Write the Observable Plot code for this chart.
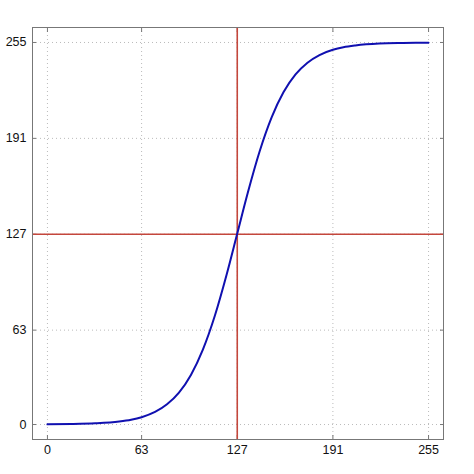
<!DOCTYPE html>
<html>
<head>
<meta charset="utf-8">
<script src="https://cdn.jsdelivr.net/npm/d3@7"></script>
<script src="https://cdn.jsdelivr.net/npm/@observablehq/plot@0.6"></script>
<style>
  html, body { margin: 0; padding: 0; background: #fff; }
  svg { display: block; }
</style>
</head>
<body>
<div id="chart"></div>
<script>
const tickValues = [0, 63, 127, 191, 255];
const curveX = [0, 16, 32, 48, 56, 63, 72, 80, 88, 96, 104, 112, 120, 127, 134, 142, 150, 158, 166, 174, 182, 191, 198, 206, 222, 238, 255];
const curveY = [0.1, 0.3, 0.8, 2.0, 3.2, 4.9, 8.4, 13.5, 21.3, 33.1, 50.0, 72.6, 100.5, 127.5, 154.5, 182.4, 205.0, 221.9, 233.7, 241.5, 246.6, 250.1, 251.8, 253.0, 254.3, 254.7, 254.9];
const crossX = [127];
const crossY = [127];

const curve = curveX.map((x, i) => ({x, y: curveY[i]}));

const chart = Plot.plot({
  width: 474,
  height: 474,
  marginLeft: 32,
  marginRight: 31,
  marginTop: 27,
  marginBottom: 35,
  style: {fontFamily: "Liberation Sans, Arial, sans-serif", fontSize: "12.5px", color: "#111"},
  x: {domain: [-10, 265], ticks: tickValues},
  y: {domain: [-10, 265], ticks: tickValues},
  marks: [
    Plot.gridX(tickValues, {stroke: "#bbb", strokeOpacity: 1, strokeDasharray: "1,3"}),
    Plot.gridY(tickValues, {stroke: "#bbb", strokeOpacity: 1, strokeDasharray: "1,3"}),
    Plot.axisX(tickValues, {anchor: "bottom", tickSize: -4, tickPadding: 10, stroke: "#777", label: null, fill: "#111"}),
    Plot.axisX(tickValues, {anchor: "top", tickSize: -4, tickFormat: () => "", stroke: "#777", label: null}),
    Plot.axisY(tickValues, {anchor: "left", tickSize: -4, tickPadding: 10, stroke: "#777", label: null, fill: "#111"}),
    Plot.axisY(tickValues, {anchor: "right", tickSize: -4, tickFormat: () => "", stroke: "#777", label: null}),
    Plot.ruleX(crossX, {stroke: "#c4473c", strokeWidth: 1.6}),
    Plot.ruleY(crossY, {stroke: "#c4473c", strokeWidth: 1.6}),
    Plot.line(curve, {x: "x", y: "y", stroke: "#1010b0", strokeWidth: 2, curve: "monotone-x"}),
    Plot.frame({stroke: "#777", strokeWidth: 1})
  ]
});
document.getElementById("chart").appendChild(chart);
</script>
</body>
</html>
